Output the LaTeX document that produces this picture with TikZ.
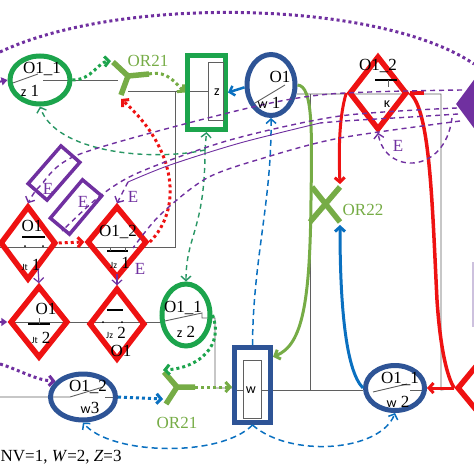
\documentclass[tikz,border=0pt]{standalone}
\usepackage{fontspec}
\setmainfont{Liberation Serif}
\newfontfamily\sansf{Carlito}
\usetikzlibrary{arrows.meta,shapes.geometric}
\pgfdeclarelayer{bg}
\pgfsetlayers{bg,main}
\definecolor{zgreen}{RGB}{28,164,76}
\definecolor{orgreen}{RGB}{118,172,70}
\definecolor{dblue}{RGB}{46,84,150}
\definecolor{lblue}{RGB}{10,112,192}
\definecolor{rred}{RGB}{238,18,18}
\definecolor{ppl}{RGB}{112,48,160}
\definecolor{lav}{RGB}{205,193,222}
\definecolor{wgray}{RGB}{95,95,95}
\definecolor{gdash}{RGB}{40,150,100}
\newcommand\mysf[1]{{\sansf\fontsize{14}{14}\selectfont #1}}
\newcommand\mytiny[1]{{\sansf\fontsize{9.5}{9.5}\selectfont #1}}
\begin{document}
\begin{tikzpicture}[x=1pt,y=-1pt,
  lab/.style={inner sep=0pt,font=\fontsize{17}{17}\selectfont},
  orlab/.style={inner sep=0pt,text=orgreen,font=\fontsize{17}{17}\selectfont},
  elab/.style={inner sep=0pt,text=ppl,font=\fontsize{17}{17}\selectfont},
  zell/.style={draw=zgreen,line width=5pt,ellipse,inner sep=0pt},
  bell/.style={draw=dblue,line width=5pt,ellipse,inner sep=0pt},
  rdia/.style={draw=rred,line width=5.5pt,diamond,inner sep=0pt},
  erect/.style={draw=ppl,line width=3.5pt,minimum width=50pt,minimum height=25pt,inner sep=0pt},
  wire/.style={draw=wgray,line width=0.9pt},
  arr/.style={-{Straight Barb[length=4.5pt,width=10pt]}},
  pdash/.style={draw=ppl,line width=1.4pt,dash pattern=on 5pt off 4pt},
  gdsh/.style={draw=gdash,line width=1.4pt,dash pattern=on 5pt off 4pt},
  bdash/.style={draw=lblue,line width=1.5pt,dash pattern=on 6pt off 4pt},
  dotl/.style={line width=3pt,dash pattern=on 3pt off 3pt},
  orsym/.style={draw=orgreen,line width=5.5pt},
  bar/.style={draw=black,line width=1.6pt}
]
\useasboundingbox (0,0) rectangle (474,474);

% ---------- nodes ----------
\node[zell,minimum width=60pt,minimum height=48pt] (z1) at (40,80) {};
\node[draw=zgreen,line width=5pt,minimum width=38pt,minimum height=74pt,inner sep=0pt] (boxz) at (206.5,92.5) {};
\node[wire,minimum width=15pt,minimum height=58pt,inner sep=0pt] (boxzin) at (215.5,91.5) {};
\node[bell,minimum width=48pt,minimum height=61pt] (w1) at (271,85) {};
\node[rdia,minimum width=58pt,minimum height=74pt] (K) at (378,93) {};
\node[rdia,minimum width=56pt,minimum height=74pt] (A) at (28,243) {};
\node[rdia,minimum width=60pt,minimum height=72pt] (B) at (117,242) {};
\node[rdia,minimum width=58pt,minimum height=72pt] (C) at (39,322) {};
\node[rdia,minimum width=56pt,minimum height=72pt] (D) at (117,324) {};
\node[zell,minimum width=48pt,minimum height=62pt] (z2) at (186,315) {};
\node[bell,minimum width=65pt,minimum height=46pt] (w3) at (83,397) {};
\node[draw=dblue,line width=5pt,minimum width=36pt,minimum height=75pt,inner sep=0pt] (boxw) at (252.5,385) {};
\node[wire,minimum width=18pt,minimum height=58pt,inner sep=0pt] (boxwin) at (252,389) {};
\node[bell,minimum width=59pt,minimum height=45pt] (w2) at (395,388) {};
\node[diamond,fill=ppl,inner sep=0pt,minimum width=40pt,minimum height=54pt] (hex) at (476,104) {};
\node[rdia,minimum width=50pt,minimum height=60pt] (rd) at (482,388) {};
\node[fill=lav,inner sep=0pt,minimum width=6pt,minimum height=65pt] (lavr) at (475,294.5) {};
\node[erect,rotate=49] (E1) at (54,173) {};
\node[erect,rotate=50] (E2) at (76,207) {};

% OR symbols
\coordinate (or1c) at (128,76); \coordinate (or1a) at (113,62);
\coordinate (or1b) at (121,95); \coordinate (or1s) at (149,74);
\coordinate (or1bt) at (121,99); \coordinate (or1at) at (111,61);
\draw[orsym] (or1a) -- (or1c) -- (or1s) (or1c) -- (or1b);
\coordinate (or2c) at (177,387); \coordinate (or2a) at (164,372);
\coordinate (or2b) at (166,404); \coordinate (or2s) at (195,387);
\coordinate (or2at) at (163,370); \coordinate (or2bt) at (163,399);
\draw[orsym] (or2a) -- (or2c) -- (or2s) (or2c) -- (or2b);
\coordinate (x1a) at (312,187); \coordinate (x1b) at (340,222);
\coordinate (x2a) at (340,187); \coordinate (x2b) at (310,222);
\coordinate (x2t) at (340,184); \coordinate (x1bt) at (340,225);
\draw[orsym] (x1a) -- (x1b) (x2a) -- (x2b);

% ---------- gray wiring (background) ----------
\begin{pgfonlayer}{bg}
\draw[wire] (10,84) -- (38,74);
\draw[wire] (43,80) -- (118,80);
\draw[wire] (128,91) -- (boxzin.west |- 0,91);
\draw[wire] (175,91) -- (175,247) -- (0,247);
\draw[wire] (255,103) -- (285,85);
\draw[wire] (297,94) -- (441,94) -- (441,390) -- (rd.west);
\draw[wire] (310,94) -- (310,390);
\draw[wire] (boxw.east |- 0,390) -- (w2.west |- 0,390);
\draw[wire] (373,392) -- (407,384);
\draw[wire] (410,390) -- (w2.east |- 0,390);
\draw[wire] (8,322) -- (160,322);
\draw[wire] (160,322) -- (202,313) -- (202,318) -- (215,318) -- (215,388) -- (boxw.west |- 0,388);
\draw[wire] (0,397) -- (70,397) -- (103,387);
\draw[wire] (105,397) -- (118,397);
\draw[wire] (232,390) -- (boxwin.west |- 0,390);
\draw[wire] (boxwin.east |- 0,390) -- (273,390);
\draw[wire] (185,91) -- (208,91);
\end{pgfonlayer}

% contacts
\draw[bar] (22,237) -- (45,237);
\fill (25,246) circle (1pt) (43,246) circle (1pt);
\draw[bar] (107,251) -- (128,251);
\draw[wire] (110,247) -- (110,251) (125,247) -- (125,251);
\draw[bar] (28,324) -- (50,324);
\draw[wire] (39,318) -- (39,324);
\draw[bar] (107,310) -- (123,310);
\fill (103,322) circle (1pt) (122,322) circle (1pt);
\draw[bar] (375,80) -- (397,80);
\draw[wire] (388,80) -- (388,87);

% ---------- connectors ----------
\draw[zgreen,dotl,arr] (z1.east) .. controls (92,80) and (98,62) .. (or1at);
\draw[orgreen,dotl,arr] (or1s) .. controls (168,70) and (176,84) .. (boxz.west);
\draw[rred,dotl,arr] (B.east) .. controls (182,210) and (178,150) .. (or1bt);
\draw[rred,dotl,arr] (A.east) -- (B.west);

\coordinate (gz) at (205,150);
\draw[gdsh,arr] (gz) -- (boxz.south);
\draw[gdsh,arr] (gz) .. controls (150,162) and (55,152) .. (z1.south);
\draw[gdsh,arr] (gz) .. controls (205,230) and (186,235) .. (z2.north);

\draw[lblue,line width=2.5pt,arr] (w1.185) -- (boxz.east);
\draw[orgreen,line width=3pt,arr] (w1.east) .. controls (313,86) and (312,130) .. (311,200)
   .. controls (310,300) and (303,345) .. (boxw.54);
\draw[rred,line width=3pt,arr] (K.west) .. controls (338,120) and (339,160) .. (x2t);
\draw[lblue,line width=3pt,arr] (w2.west) .. controls (345,370) and (340,300) .. (x1bt);
\draw[rred,line width=3.5pt] (K.east) -- (424,93);
\draw[rred,line width=3.5pt] (K.east) .. controls (430,110) and (432,200) .. (437,300)
   .. controls (441,360) and (450,382) .. (rd.west);
\draw[rred,line width=3pt,arr] (rd.west) -- (w2.east);

\draw[bdash,arr] (boxw.north) .. controls (253,260) and (272,200) .. (w1.south);
\draw[bdash,arr] (boxw.south) .. controls (220,458) and (110,455) .. (w3.south);
\draw[bdash,arr] (boxw.south) .. controls (290,458) and (380,452) .. (w2.south);

\draw[zgreen,dotl,arr] (z2.east) .. controls (224,345) and (200,368) .. (or2at);
\draw[orgreen,dotl,arr] (or2s) -- (boxw.west |- or2s);
\draw[lblue,dotl,arr] (w3.east) -- (or2bt);

\draw[ppl,dotl] (0,52) .. controls (120,-5) and (380,0) .. (474,64);
\draw[ppl,dotl,arr] (0,364) .. controls (20,370) and (35,380) .. (w3.150);
\draw[ppl,line width=2pt,-{Triangle[length=6pt,width=8pt]}] (-6,83) -- (z1.west);
\draw[ppl,line width=2pt,-{Triangle[length=6pt,width=8pt]}] (-6,322) -- (C.west);
\draw[ppl,line width=1.2pt,arr] (38,268) -- (C.north);
\draw[ppl,line width=1.2pt,arr] (117,274) -- (D.north);

% purple dashed lines from the hexagon
\coordinate (h1) at (462,90); \coordinate (h2) at (457,108);
\coordinate (h3) at (458,114); \coordinate (h4) at (460,121);
\coordinate (h5) at (452,118);
\draw[pdash,arr] plot[smooth,tension=0.5] coordinates {(h1) (330,94) (240,110) (80,154) (40,186) (A.north)};
\draw[pdash] plot[smooth,tension=0.5] coordinates {(h2) (340,116) (230,140) (140,172) (100,196) (62,231)};
\draw[pdash] (h3) .. controls (400,118) and (350,120) .. (320,123);
\draw[ppl,line width=0.9pt] plot[smooth,tension=0.5] coordinates {(320,123) (240,143) (170,165) (128,182)};
\draw[pdash,arr] (128,182) -- (B.north);
\draw[pdash] plot[smooth,tension=0.5] coordinates {(h4) (340,138) (267,157) (207,178) (160,215) (133,248)};
\draw[pdash,arr] (h5) .. controls (445,175) and (385,175) .. (K.south);

% ---------- labels ----------
\node[lab] (t1) at (42,69) {O1\_1};
\node[lab] (t2) at (30,91) {\mysf{z} 1};
\node[lab] (t3) at (217,92) {\mysf{z}};
\node[lab] (t4) at (280,77) {O1};
\node[lab] (t5) at (269,103) {\mysf{w} 1};
\node[lab] (t6) at (378,66) {O1\_2};
\node[lab] (t7) at (387,104) {\mysf{κ}};
\node[lab] (t8) at (32,226) {O1};
\node[lab] (t9) at (31,265) {\mytiny{Jt} 1};
\node[lab] (t10) at (118,232) {O1\_2};
\node[lab] (t11) at (120,263) {\mytiny{Jz} 1};
\node[lab] (t12) at (46,309) {O1};
\node[lab] (t13) at (41,338) {\mytiny{Jt} 2};
\node[lab] (t14) at (116,333) {\mytiny{Jz} 2};
\node[lab] (t15) at (121,351) {O1};
\node[lab] (t16) at (183,308) {O1\_1};
\node[lab] (t17) at (186,332) {\mysf{z} 2};
\node[lab] (t18) at (88,387) {O1\_2};
\node[lab] (t19) at (90,408) {\mysf{w}3};
\node[lab] (t20) at (251,390) {\mysf{w}};
\node[lab] (t21) at (400,379) {O1\_1};
\node[lab] (t22) at (398,402) {\mysf{w} 2};
\node[orlab] (o1) at (148,61) {OR21};
\node[orlab] (o2) at (177,423) {OR21};
\node[orlab] (o3) at (363,210) {OR22};
\node[elab] (e1) at (48,189) {E};
\node[elab] (e2) at (83,202) {E};
\node[elab] (e3) at (133,197) {E};
\node[elab] (e4) at (140,269) {E};
\node[elab] (e5) at (398,146) {E};
\node[lab,anchor=west] (nv) at (0.5,457) {NV=1, \textit{W}=2, \textit{Z}=3};
\end{tikzpicture}
\end{document}
